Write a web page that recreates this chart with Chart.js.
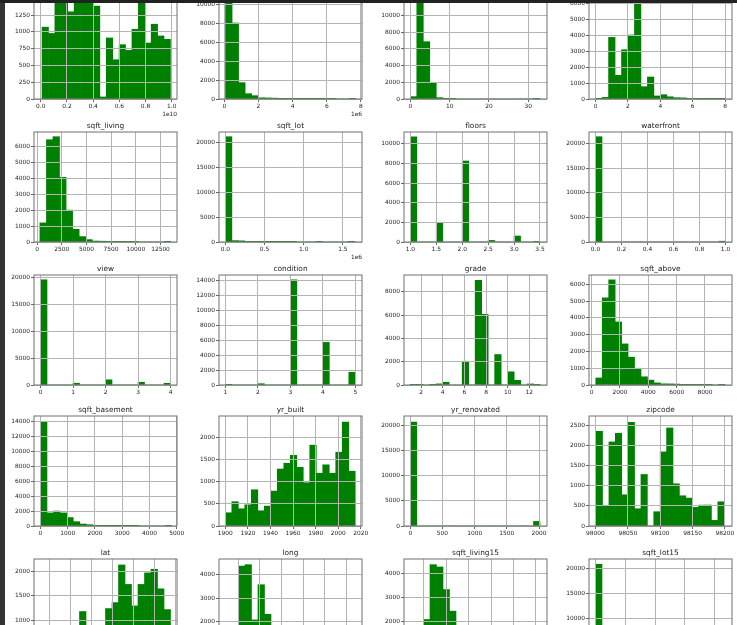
<!DOCTYPE html>
<html>
<head>
<meta charset="utf-8">
<title>hist</title>
<script src="https://cdn.jsdelivr.net/npm/chart.js@4"></script>
<style>
  html, body { margin: 0; padding: 0; background: #fff; }
  body { position: relative; width: 737px; height: 625px; overflow: hidden; }
  canvas { position: absolute; filter: blur(0.35px); }
  .panel-title { filter: blur(0.25px); }
  #side { position: absolute; left: 0; top: 0; width: 5px; height: 625px; background: #333; z-index: 5; }
  #head { position: absolute; left: 0; top: 0; width: 737px; height: 3px; background: #222; z-index: 5; }
</style>
</head>
<body>
<div id="side"></div>
<div id="head"></div>
<script>
// counts per bin (20 bins each)
const idCounts = [1071, 977, 1560, 1530, 1300, 1530, 1520, 1460, 1385, 30, 910, 585, 810, 725, 1040, 1560, 835, 1115, 940, 890];
const priceCounts = [10400, 8000, 1720, 560, 350, 130, 110, 90, 30, 15, 10, 6, 4, 3, 2, 1, 1, 0, 0, 1];
const bedroomCounts = [280, 12300, 6850, 1950, 160, 12, 2, 0, 0, 0, 0, 0, 0, 0, 0, 0, 0, 0, 0, 1];
const bathroomCounts = [10, 100, 3850, 1480, 3080, 4000, 6600, 770, 1375, 190, 270, 140, 80, 70, 12, 8, 4, 2, 1, 2];
const sqftLivingCounts = [1200, 6420, 6610, 4060, 2000, 800, 340, 150, 60, 50, 10, 5, 3, 2, 1, 0, 0, 0, 0, 1];
const sqftLotCounts = [21070, 280, 230, 40, 15, 8, 3, 2, 1, 1, 1, 0, 0, 0, 1, 0, 0, 0, 0, 1];
const floorCounts = [10710, 0, 0, 0, 1910, 0, 0, 0, 8240, 0, 0, 0, 161, 0, 0, 0, 610, 0, 0, 8];
const waterfrontCounts = [21430, 0, 0, 0, 0, 0, 0, 0, 0, 0, 0, 0, 0, 0, 0, 0, 0, 0, 0, 163];
const viewCounts = [19490, 0, 0, 0, 0, 332, 0, 0, 0, 0, 960, 0, 0, 0, 0, 510, 0, 0, 0, 319];
const conditionCounts = [30, 0, 0, 0, 0, 170, 0, 0, 0, 0, 14030, 0, 0, 0, 0, 5680, 0, 0, 0, 1700];
const gradeCounts = [1, 3, 0, 29, 95, 240, 0, 0, 2040, 0, 8980, 6070, 0, 2615, 0, 1134, 399, 0, 90, 13];
const sqftAboveCounts = [420, 5200, 6270, 3760, 2450, 1660, 1000, 490, 290, 125, 70, 65, 55, 12, 5, 3, 2, 1, 0, 1];
const basementCounts = [13900, 1750, 2000, 1750, 1130, 580, 260, 170, 40, 20, 10, 5, 3, 1, 1, 0, 0, 0, 0, 1];
const yrBuiltCounts = [300, 550, 390, 480, 820, 345, 450, 790, 1290, 1420, 1600, 1330, 980, 1830, 1195, 1385, 1195, 1670, 2350, 1240];
const yrRenovatedCounts = [20690, 0, 0, 0, 0, 0, 0, 0, 0, 0, 0, 0, 0, 0, 0, 0, 0, 0, 0, 914];
const zipcodeCounts = [2360, 497, 2094, 2310, 778, 2583, 430, 1283, 0, 356, 1846, 2442, 1051, 753, 695, 464, 520, 522, 140, 604];
const latCounts = [40, 120, 300, 420, 640, 460, 1176, 780, 560, 640, 1236, 1358, 2128, 1730, 1290, 1730, 1966, 2040, 1640, 1215];
const longCounts = [60, 700, 4360, 4420, 2080, 3570, 2320, 1500, 1300, 900, 800, 500, 300, 200, 100, 50, 30, 20, 10, 5];
const living15Counts = [40, 700, 2070, 4360, 4264, 3320, 2417, 1500, 1000, 700, 400, 200, 100, 60, 30, 15, 10, 5, 3, 2];
const lot15Counts = [20800, 380, 180, 60, 30, 15, 8, 4, 2, 1, 1, 1, 0, 0, 0, 0, 0, 0, 0, 1];

const titles = ['', '', '', '',
  'sqft_living', 'sqft_lot', 'floors', 'waterfront',
  'view', 'condition', 'grade', 'sqft_above',
  'sqft_basement', 'yr_built', 'yr_renovated', 'zipcode',
  'lat', 'long', 'sqft_living15', 'sqft_lot15'];
const counts = [idCounts, priceCounts, bedroomCounts, bathroomCounts,
  sqftLivingCounts, sqftLotCounts, floorCounts, waterfrontCounts,
  viewCounts, conditionCounts, gradeCounts, sqftAboveCounts,
  basementCounts, yrBuiltCounts, yrRenovatedCounts, zipcodeCounts,
  latCounts, longCounts, living15Counts, lot15Counts];
// first and last bin edge
const binLow = [1e8, 75000, 0, 0, 290, 520, 1, 0, 0, 1, 1, 290, 0, 1900, 0, 98001, 47.156, -122.519, 399, 651];
const binHigh = [9.9e9, 7700000, 33, 8, 13540, 1651359, 3.5, 1, 4, 5, 13, 9410, 4820, 2015, 2015, 98199, 47.778, -121.315, 6210, 871200];
// axis limits and tick steps
const xMins = [-5.15e8, -310000, -1.6, -0.41, -306, -81000, 0.878, -0.05, -0.2, 0.804, 0.43, -188, -235, 1894.4, -98, 97990, 47.125, -122.579, 109, -43000];
const xMaxs = [1.04e10, 8060000, 34.75, 8.43, 14170, 1744000, 3.635, 1.05, 4.2, 5.206, 13.63, 9906, 5012, 2021, 2124, 98211, 47.809, -121.255, 6500, 916000];
const xSteps = [2e9, 2000000, 10, 2, 2500, 500000, 0.5, 0.2, 1, 1, 2, 2000, 1000, 20, 500, 50, 0.1, 0.2, 1000, 200000];
const yMaxs = [1640, 11580, 13147, 6875, 6905, 22013, 11190, 22390, 20373, 14670, 9440, 6560, 14710, 2490, 21920, 2740, 2250, 4660, 4597, 21840];
const ySteps = [250, 2000, 2000, 1000, 1000, 5000, 2000, 5000, 5000, 2000, 2000, 1000, 2000, 500, 5000, 500, 500, 1000, 1000, 5000];
const xDigits = [1, 0, 0, 0, 0, 1, 1, 1, 0, 0, 0, 0, 0, 0, 0, 0, 1, 1, 0, 1];
const xOffsets = ['1e10', '1e6', '', '', '', '1e6', '', '', '', '', '', '', '', '', '', '', '', '', '', ''];

const axLeft = [34, 219, 404, 589];
const axTop = [-11, 132, 275, 416, 559];
const axW = 143, axH = 110, leftGap = 34, titleGap = 10, bottomGap = 30, rightGap = 14;
const fontFamily = "'DejaVu Sans'";
const textColor = '#222';
const gridColor = '#b4b4b4';

// frame round the plot, matplotlib draws all four spines
const framePlugin = {
    id: 'frame',
    afterDraw(chart) {
        const a = chart.chartArea, c = chart.ctx;
        c.save();
        c.strokeStyle = '#707070';
        c.lineWidth = 1;
        c.strokeRect(a.left, a.top, a.right - a.left, a.bottom - a.top);
        c.restore();
    }
};

// multiples of the step that fall inside the axis
const stepTicks = (lo, hi, step) => {
    const out = [];
    for (let k = Math.ceil(lo / step - 1e-9); k * step <= hi + 1e-9; k++) {
        out.push({ value: k * step });
    }
    return out;
};

counts.forEach((values, i) => {
    const canvas = document.createElement('canvas');
    canvas.width = leftGap + axW + rightGap;
    canvas.height = titleGap + axH + bottomGap;
    canvas.style.left = (axLeft[i % 4] - leftGap) + 'px';
    canvas.style.top = (axTop[Math.floor(i / 4)] - titleGap) + 'px';
    document.body.appendChild(canvas);

    const width = (binHigh[i] - binLow[i]) / values.length;
    const points = values.map((v, k) => ({ x: binLow[i] + width * (k + 0.5), y: v }));
    const divisor = xOffsets[i] === '1e10' ? 1e10 : xOffsets[i] === '1e6' ? 1e6 : 1;

    new Chart(canvas, {
        type: 'bar',
        data: {
            datasets: [{
                data: points,
                backgroundColor: '#008000',
                borderWidth: 0,
                barPercentage: 1,
                categoryPercentage: 1
            }]
        },
        plugins: [framePlugin],
        options: {
            responsive: false,
            animation: false,
            layout: { padding: { top: titleGap, right: rightGap } },
            plugins: {
                legend: { display: false },
                tooltip: { enabled: false },
                title: { display: false }
            },
            scales: {
                x: {
                    type: 'linear',
                    offset: false,
                    min: xMins[i],
                    max: xMaxs[i],
                    afterFit: s => { s.height = bottomGap; },
                    afterBuildTicks: s => { s.ticks = stepTicks(xMins[i], xMaxs[i], xSteps[i]); },
                    grid: { offset: false, color: gridColor, lineWidth: 1, z: 1, tickLength: 3, tickColor: '#666' },
                    border: { display: false },
                    title: {
                        display: xOffsets[i] !== '',
                        text: xOffsets[i],
                        align: 'end',
                        color: textColor,
                        font: { family: fontFamily, size: 5.9 },
                        padding: { top: 0, bottom: 11 }
                    },
                    ticks: {
                        autoSkip: false,
                        maxRotation: 0,
                        padding: 1,
                        color: textColor,
                        font: { family: fontFamily, size: 5.9 },
                        callback: v => (v / divisor).toFixed(xDigits[i])
                    }
                },
                y: {
                    min: 0,
                    max: yMaxs[i],
                    afterFit: s => { s.width = leftGap; },
                    afterBuildTicks: s => { s.ticks = stepTicks(0, yMaxs[i], ySteps[i]); },
                    grid: { color: gridColor, lineWidth: 1, z: 1, tickLength: 3, tickColor: '#666' },
                    border: { display: false },
                    ticks: {
                        autoSkip: false,
                        padding: 1,
                        color: textColor,
                        font: { family: fontFamily, size: 5.9 },
                        callback: v => String(v)
                    }
                }
            }
        }
    });
    // title text sits in the HTML, centred over the axes
    if (titles[i] !== '') {
        const label = document.createElement('div');
        label.className = 'panel-title';
        label.textContent = titles[i];
        label.style.cssText = 'position:absolute;text-align:center;white-space:nowrap;color:' + textColor +
            ';font:7.4px ' + fontFamily + ';line-height:9px;width:' + axW + 'px;left:' + axLeft[i % 4] +
            'px;top:' + (axTop[Math.floor(i / 4)] - 11) + 'px';
        document.body.appendChild(label);
    }
});
</script>
</body>
</html>
